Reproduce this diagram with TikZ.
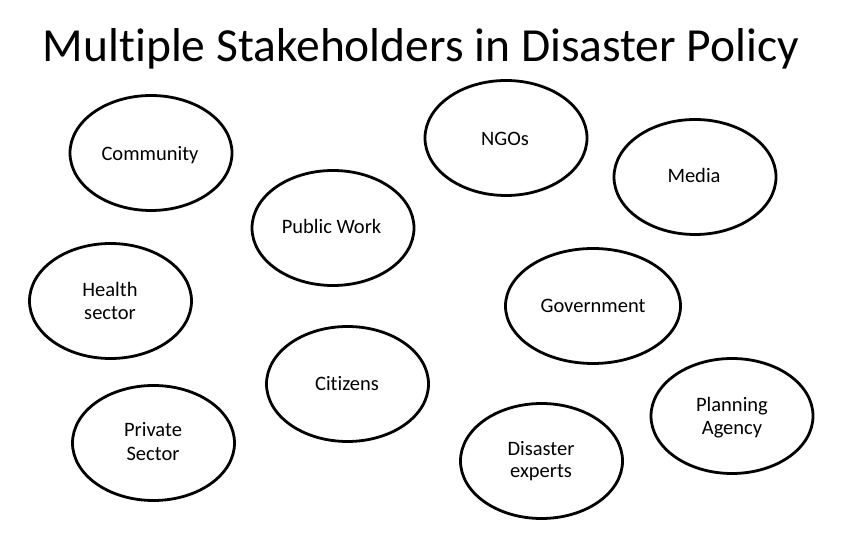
\documentclass[tikz,border=0pt]{standalone}
\usepackage{fontspec}
\setmainfont{Carlito}[RawFeature=-liga]
\usetikzlibrary{shapes.geometric}
\begin{document}
\begin{tikzpicture}[x=1pt,y=1pt,
  stake/.style={draw=black,line width=2.8pt,ellipse,inner sep=0pt,minimum width=162pt,minimum height=115pt},
  lbl/.style={anchor=base,inner sep=0pt,font=\fontsize{20.5}{24}\selectfont},
  ttl/.style={anchor=base,inner sep=0pt,font=\fontsize{47.5}{52}\selectfont}]
\useasboundingbox[fill=white] (0,0) rectangle (842,532);
\node[ttl] (title) at (421,470) {Multiple Stakeholders in Disaster Policy};
\node[stake] (community) at (151,379) {};
\node[stake] (publicwork) at (333,304) {};
\node[stake] (ngos) at (506,394) {};
\node[stake] (media) at (695,355) {};
\node[stake] (health) at (110.5,231) {};
\node[stake] (citizens) at (347.5,148) {};
\node[stake] (private) at (153.5,89) {};
\node[stake,minimum width=175pt] (government) at (593,226) {};
\node[stake] (planning) at (732,116) {};
\node[stake] (experts) at (541.5,71) {};
\node[lbl] (tcommunity) at (150,371) {Community};
\node[lbl] (tpublic) at (331.5,298) {Public Work};
\node[lbl] (tngos) at (505,386) {NGOs};
\node[lbl] (tmedia) at (694,349) {Media};
\node[lbl] (thealth1) at (110,235) {Health};
\node[lbl] (thealth2) at (110,212) {sector};
\node[lbl] (tcitizens) at (347,141) {Citizens};
\node[lbl] (tprivate1) at (153,95) {Private};
\node[lbl] (tprivate2) at (153,71) {Sector};
\node[lbl] (tgov) at (593,219) {Government};
\node[lbl] (tplan1) at (732,120) {Planning};
\node[lbl] (tplan2) at (732,97) {Agency};
\node[lbl] (texp1) at (541,76) {Disaster};
\node[lbl] (texp2) at (541,54) {experts};
\end{tikzpicture}
\end{document}
